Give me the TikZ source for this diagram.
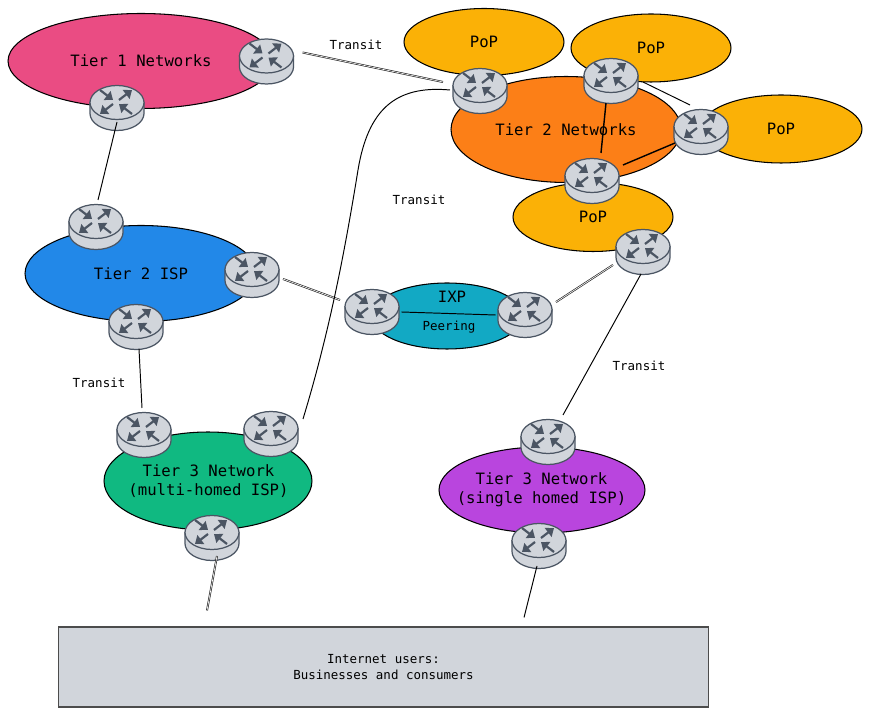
\documentclass[tikz,border=0pt]{standalone}
\usepackage{fontspec}
\setmainfont{DejaVu Sans Mono}
\usepackage{tikz}
\usetikzlibrary{arrows.meta, shapes, positioning}
\definecolor{tierone}{HTML}{EA4C83}
\definecolor{tiertwo}{HTML}{FC7F17}
\definecolor{ispblue}{HTML}{2288E8}
\definecolor{popamber}{HTML}{FBB106}
\definecolor{ixpteal}{HTML}{12A9C4}
\definecolor{tierthree}{HTML}{10B981}
\definecolor{singlehomed}{HTML}{B945DE}
\definecolor{routergray}{HTML}{D1D5DB}
\definecolor{routeredge}{HTML}{4B5563}
\newcommand{\bigtext}{\fontsize{8.9}{10.8}\selectfont}
\newcommand{\smalltext}{\fontsize{7.1}{8.6}\selectfont}
\tikzstyle{zone} = [ellipse, draw=black, line width=0.6pt, inner sep=0, align=center, font=\bigtext]
\tikzstyle{zonetext} = [inner sep=0, align=center, font=\bigtext]
\tikzstyle{note} = [inner sep=0, align=center, font=\smalltext]
\tikzstyle{link} = [draw=black, line width=0.55pt]
\tikzstyle{dlink} = [draw=black!85, line width=0.38pt, double=white, double distance=0.35pt]
\tikzstyle{router} = [rectangle, inner sep=0, minimum width=1.16cm, minimum height=0.96cm, path picture={
	\begin{scope}[shift={(path picture bounding box.center)}, draw=routeredge, line width=0.7pt]
		\draw [fill=routergray] (-27, -5.5) -- (-27, 5.5) arc [start angle=180, end angle=0, x radius=27, y radius=17] -- (27, -5.5) -- cycle;
		\draw [fill=routergray] (0, -5.5) ellipse [x radius=27, y radius=17];
		\foreach \sx/\sy/\ex/\ey in {-17/-18/-4/-8, 2/-8/15/-18, -4/-4/-17/6, 15/6/2/-4}
			\draw [line width=1.25pt, -{Triangle[length=4.2pt, width=6.2pt]}] (\sx, \sy) -- (\ex, \ey);
	\end{scope}}]

\begin{document}
\begin{tikzpicture}[x=0.02cm, y=-0.02cm]
	\useasboundingbox (0, 0) rectangle (869, 715);

	% tier 1
	\node (TierOne) [zone, fill=tierone, minimum width=5.32cm, minimum height=1.9cm] at (141, 61) {Tier 1 Networks};
	\node (TierOneEast) [router] at (266.5, 61.5) {};
	\node (TierOneSouth) [router] at (117, 108) {};

	% points of presence
	\node (PopWest) [zone, fill=popamber, minimum width=3.2cm, minimum height=1.34cm] at (484, 42) {PoP};
	\node (PopNorth) [zone, fill=popamber, minimum width=3.2cm, minimum height=1.36cm] at (651, 48) {PoP};
	\node (PopEast) [zone, fill=popamber, minimum width=3.24cm, minimum height=1.36cm] at (781, 129) {PoP};
	\node (PopSouth) [zone, fill=popamber, minimum width=3.2cm, minimum height=1.38cm] at (593, 217) {PoP};

	% tier 2 networks
	\node (TierTwo) [zone, fill=tiertwo, minimum width=4.6cm, minimum height=2.12cm] at (566, 129.5) {Tier 2 Networks};
	\node (TierTwoWest) [router] at (480, 91) {};
	\node (TierTwoNorth) [router] at (611, 81) {};
	\node (TierTwoEast) [router] at (701, 132) {};
	\node (TierTwoSouth) [router] at (592, 181) {};
	\node (PopExit) [router] at (643, 252) {};

	% tier 2 isp
	\node (Isp) [zone, fill=ispblue, minimum width=4.64cm, minimum height=1.92cm] at (141, 273.5) {Tier 2 ISP};
	\node (IspNorth) [router] at (96, 227) {};
	\node (IspEast) [router] at (252, 275) {};
	\node (IspSouth) [router] at (136, 327) {};

	% exchange point
	\node (Ixp) [zone, fill=ixpteal, minimum width=3.04cm, minimum height=1.32cm] at (447, 316) {};
	\node (IxpLabel) [zonetext] at (452, 297) {IXP};
	\node (PeeringLabel) [note] at (449, 327) {Peering};
	\node (IxpWest) [router] at (372, 312) {};
	\node (IxpEast) [router] at (525, 315) {};

	% tier 3 multi-homed
	\node (Multi) [zone, fill=tierthree, minimum width=4.16cm, minimum height=1.96cm] at (208, 481) {};
	\node (MultiLabel) [zonetext] at (208.5, 481) {Tier 3 Network\\(multi-homed ISP)};
	\node (MultiWest) [router] at (144, 435) {};
	\node (MultiEast) [router] at (271, 434) {};
	\node (MultiSouth) [router] at (212, 538) {};

	% tier 3 single homed
	\node (Single) [zone, fill=singlehomed, minimum width=4.12cm, minimum height=1.72cm] at (542, 490) {};
	\node (SingleLabel) [zonetext] at (541.5, 490) {Tier 3 Network\\(single homed ISP)};
	\node (SingleNorth) [router] at (548, 442) {};
	\node (SingleSouth) [router] at (539, 546) {};

	% users
	\node (Users) [draw=black!70, line width=0.6pt, fill=routergray, minimum width=13.02cm, minimum height=1.6cm, note] at (383.5, 667) {Internet users:\\Businesses and consumers};

	% links
	\draw [link] ([shift={(0, 14)}]TierOneSouth.center) -- ([shift={(2, -27)}]IspNorth.center);
	\draw [dlink] ([shift={(36, -9)}]TierOneEast.center) -- ([shift={(-37, -9)}]TierTwoWest.center);
	\draw [link] ([shift={(3, 22)}]IspSouth.center) -- ([shift={(-2, -27)}]MultiWest.center);
	\draw [dlink] ([shift={(31, 4)}]IspEast.center) -- ([shift={(-32, -12)}]IxpWest.center);
	\draw [link] (IxpWest.east) -- (IxpEast.west);
	\draw [dlink] ([shift={(31, -13)}]IxpEast.center) -- ([shift={(-30, 13)}]PopExit.center);
	\draw [link] ([shift={(-2, 22)}]PopExit.center) -- ([shift={(15, -27)}]SingleNorth.center);
	\draw [link] ([shift={(32, -15)}]MultiEast.center) .. controls (330, 330) and (345, 250) .. (358, 170)
		.. controls (368, 110) and (395, 85) .. ([shift={(-30, -1)}]TierTwoWest.center);
	\draw [dlink] ([shift={(5, 18)}]MultiSouth.center) -- ([shift={(-176.5, -16)}]Users.north);
	\draw [link] ([shift={(-2, 20)}]SingleSouth.center) -- ([shift={(140.5, -9)}]Users.north);
	\draw [link, line width=0.8pt] ([shift={(-5, 22)}]TierTwoNorth.center) -- ([shift={(9, -28)}]TierTwoSouth.center);
	\draw [link, line width=0.8pt] ([shift={(-26, 11)}]TierTwoEast.center) -- ([shift={(31, -16)}]TierTwoSouth.center);
	\draw [link] ([shift={(32, 1)}]TierTwoNorth.center) -- ([shift={(-11, -27)}]TierTwoEast.center);

	% transit labels
	\node (TransitTop) [note] at (356, 45) {Transit};
	\node (TransitMid) [note] at (419, 200) {Transit};
	\node (TransitLeft) [note] at (99, 383) {Transit};
	\node (TransitRight) [note] at (639, 366) {Transit};
\end{tikzpicture}
\end{document}
